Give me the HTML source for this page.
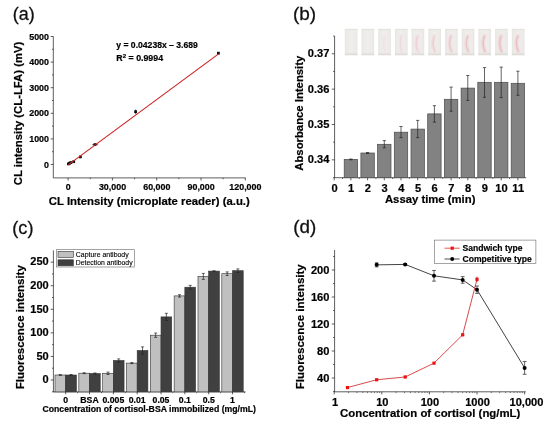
<!DOCTYPE html><html><head><meta charset="utf-8"><title>Figure</title><style>html,body{margin:0;padding:0;background:#fff}svg{display:block;filter:blur(0.22px)}text{font-family:"Liberation Sans",sans-serif}.b{font-weight:bold;stroke:#000;stroke-width:0.2px}.lab{font-family:"DejaVu Sans","Liberation Sans",sans-serif;font-weight:normal}</style></head><body>
<svg width="550" height="427" viewBox="0 0 550 427">
<rect width="550" height="427" fill="#fff"/>
<text x="12.79" y="20.30" font-size="19" text-anchor="start" class="" fill="#111" textLength="21.9" lengthAdjust="spacingAndGlyphs" stroke="#111" stroke-width="0.3">(a)</text>
<line x1="53.30" y1="36.40" x2="53.30" y2="177.90" stroke="#2a2a2a" stroke-width="0.75" />
<line x1="53.30" y1="177.90" x2="245.60" y2="177.90" stroke="#2a2a2a" stroke-width="0.75" />
<line x1="50.70" y1="164.50" x2="53.30" y2="164.50" stroke="#2a2a2a" stroke-width="0.75" />
<text x="49.00" y="167.65" font-size="8.9" text-anchor="end" class="b" fill="#000" >0</text>
<line x1="52.00" y1="151.70" x2="53.30" y2="151.70" stroke="#2a2a2a" stroke-width="0.75" />
<line x1="50.70" y1="138.90" x2="53.30" y2="138.90" stroke="#2a2a2a" stroke-width="0.75" />
<text x="49.00" y="142.05" font-size="8.9" text-anchor="end" class="b" fill="#000" >1000</text>
<line x1="52.00" y1="126.10" x2="53.30" y2="126.10" stroke="#2a2a2a" stroke-width="0.75" />
<line x1="50.70" y1="113.30" x2="53.30" y2="113.30" stroke="#2a2a2a" stroke-width="0.75" />
<text x="49.00" y="116.45" font-size="8.9" text-anchor="end" class="b" fill="#000" >2000</text>
<line x1="52.00" y1="100.50" x2="53.30" y2="100.50" stroke="#2a2a2a" stroke-width="0.75" />
<line x1="50.70" y1="87.70" x2="53.30" y2="87.70" stroke="#2a2a2a" stroke-width="0.75" />
<text x="49.00" y="90.85" font-size="8.9" text-anchor="end" class="b" fill="#000" >3000</text>
<line x1="52.00" y1="74.90" x2="53.30" y2="74.90" stroke="#2a2a2a" stroke-width="0.75" />
<line x1="50.70" y1="62.10" x2="53.30" y2="62.10" stroke="#2a2a2a" stroke-width="0.75" />
<text x="49.00" y="65.25" font-size="8.9" text-anchor="end" class="b" fill="#000" >4000</text>
<line x1="52.00" y1="49.30" x2="53.30" y2="49.30" stroke="#2a2a2a" stroke-width="0.75" />
<line x1="50.70" y1="36.50" x2="53.30" y2="36.50" stroke="#2a2a2a" stroke-width="0.75" />
<text x="49.00" y="39.65" font-size="8.9" text-anchor="end" class="b" fill="#000" >5000</text>
<line x1="68.10" y1="177.90" x2="68.10" y2="180.50" stroke="#2a2a2a" stroke-width="0.75" />
<text x="68.20" y="189.60" font-size="8.9" text-anchor="middle" class="b" fill="#000" >0</text>
<line x1="90.25" y1="177.90" x2="90.25" y2="179.20" stroke="#2a2a2a" stroke-width="0.75" />
<line x1="112.40" y1="177.90" x2="112.40" y2="180.50" stroke="#2a2a2a" stroke-width="0.75" />
<text x="112.50" y="189.60" font-size="8.9" text-anchor="middle" class="b" fill="#000" >30,000</text>
<line x1="134.55" y1="177.90" x2="134.55" y2="179.20" stroke="#2a2a2a" stroke-width="0.75" />
<line x1="156.70" y1="177.90" x2="156.70" y2="180.50" stroke="#2a2a2a" stroke-width="0.75" />
<text x="156.80" y="189.60" font-size="8.9" text-anchor="middle" class="b" fill="#000" >60,000</text>
<line x1="178.85" y1="177.90" x2="178.85" y2="179.20" stroke="#2a2a2a" stroke-width="0.75" />
<line x1="201.00" y1="177.90" x2="201.00" y2="180.50" stroke="#2a2a2a" stroke-width="0.75" />
<text x="201.10" y="189.60" font-size="8.9" text-anchor="middle" class="b" fill="#000" >90,000</text>
<line x1="223.15" y1="177.90" x2="223.15" y2="179.20" stroke="#2a2a2a" stroke-width="0.75" />
<line x1="245.30" y1="177.90" x2="245.30" y2="180.50" stroke="#2a2a2a" stroke-width="0.75" />
<text x="245.40" y="189.60" font-size="8.9" text-anchor="middle" class="b" fill="#000" >120,000</text>
<text x="149.30" y="204.80" font-size="11.3" text-anchor="middle" class="b" fill="#000" textLength="201.0" lengthAdjust="spacingAndGlyphs" >CL Intensity (microplate reader) (a.u.)</text>
<text x="22.20" y="113.50" font-size="11.3" text-anchor="middle" class="b" fill="#000" textLength="143.5" lengthAdjust="spacingAndGlyphs" transform="rotate(-90 22.20 113.50)" >CL intensity (CL-LFA) (mV)</text>
<rect x="67.00" y="162.50" width="2.8" height="2.8" fill="#111"/>
<rect x="68.20" y="161.80" width="2.8" height="2.8" fill="#111"/>
<rect x="69.40" y="161.20" width="2.8" height="2.8" fill="#111"/>
<rect x="72.30" y="160.30" width="2.8" height="2.8" fill="#111"/>
<rect x="79.00" y="155.50" width="2.8" height="2.8" fill="#111"/>
<rect x="93.60" y="143.20" width="2.8" height="2.8" fill="#111"/>
<rect x="134.20" y="110.30" width="2.8" height="2.8" fill="#111"/>
<rect x="217.00" y="51.80" width="2.8" height="2.8" fill="#111"/>
<line x1="92.40" y1="144.60" x2="97.80" y2="144.60" stroke="#111" stroke-width="0.8" />
<line x1="135.60" y1="109.60" x2="135.60" y2="113.80" stroke="#111" stroke-width="0.8" />
<line x1="68.20" y1="164.90" x2="218.60" y2="53.90" stroke="#cc2222" stroke-width="1.15" />
<text x="116.30" y="47.90" font-size="8.9" text-anchor="start" class="b" fill="#000" textLength="81.5" lengthAdjust="spacingAndGlyphs" >y = 0.04238x – 3.689</text>
<text x="116.3" y="61.4" font-size="8.8" class="b" text-anchor="start">R<tspan dy="-3.6" font-size="6.2">2</tspan><tspan dy="3.6"> = 0.9994</tspan></text>
<text x="292.94" y="20.00" font-size="19" text-anchor="start" class="" fill="#111" textLength="23.2" lengthAdjust="spacingAndGlyphs" stroke="#111" stroke-width="0.3">(b)</text>
<line x1="334.60" y1="36.10" x2="334.60" y2="177.70" stroke="#2a2a2a" stroke-width="0.75" />
<line x1="334.20" y1="177.70" x2="526.20" y2="177.70" stroke="#2a2a2a" stroke-width="0.75" />
<line x1="333.10" y1="177.53" x2="334.60" y2="177.53" stroke="#2a2a2a" stroke-width="0.75" />
<line x1="331.80" y1="159.85" x2="334.60" y2="159.85" stroke="#2a2a2a" stroke-width="0.75" />
<text x="329.40" y="163.25" font-size="11.1" text-anchor="end" class="b" fill="#000" >0.34</text>
<line x1="333.10" y1="142.17" x2="334.60" y2="142.17" stroke="#2a2a2a" stroke-width="0.75" />
<line x1="331.80" y1="124.49" x2="334.60" y2="124.49" stroke="#2a2a2a" stroke-width="0.75" />
<text x="329.40" y="127.89" font-size="11.1" text-anchor="end" class="b" fill="#000" >0.35</text>
<line x1="333.10" y1="106.81" x2="334.60" y2="106.81" stroke="#2a2a2a" stroke-width="0.75" />
<line x1="331.80" y1="89.13" x2="334.60" y2="89.13" stroke="#2a2a2a" stroke-width="0.75" />
<text x="329.40" y="92.53" font-size="11.1" text-anchor="end" class="b" fill="#000" >0.36</text>
<line x1="333.10" y1="71.45" x2="334.60" y2="71.45" stroke="#2a2a2a" stroke-width="0.75" />
<line x1="331.80" y1="53.77" x2="334.60" y2="53.77" stroke="#2a2a2a" stroke-width="0.75" />
<text x="329.40" y="57.17" font-size="11.1" text-anchor="end" class="b" fill="#000" >0.37</text>
<line x1="333.10" y1="36.09" x2="334.60" y2="36.09" stroke="#2a2a2a" stroke-width="0.75" />
<line x1="334.20" y1="177.70" x2="334.20" y2="180.30" stroke="#2a2a2a" stroke-width="0.75" />
<text x="334.50" y="191.50" font-size="11.1" text-anchor="middle" class="b" fill="#000" >0</text>
<line x1="342.55" y1="177.70" x2="342.55" y2="179.00" stroke="#2a2a2a" stroke-width="0.75" />
<line x1="350.90" y1="177.70" x2="350.90" y2="180.30" stroke="#2a2a2a" stroke-width="0.75" />
<text x="351.20" y="191.50" font-size="11.1" text-anchor="middle" class="b" fill="#000" >1</text>
<line x1="359.25" y1="177.70" x2="359.25" y2="179.00" stroke="#2a2a2a" stroke-width="0.75" />
<line x1="367.60" y1="177.70" x2="367.60" y2="180.30" stroke="#2a2a2a" stroke-width="0.75" />
<text x="367.90" y="191.50" font-size="11.1" text-anchor="middle" class="b" fill="#000" >2</text>
<line x1="375.95" y1="177.70" x2="375.95" y2="179.00" stroke="#2a2a2a" stroke-width="0.75" />
<line x1="384.30" y1="177.70" x2="384.30" y2="180.30" stroke="#2a2a2a" stroke-width="0.75" />
<text x="384.60" y="191.50" font-size="11.1" text-anchor="middle" class="b" fill="#000" >3</text>
<line x1="392.65" y1="177.70" x2="392.65" y2="179.00" stroke="#2a2a2a" stroke-width="0.75" />
<line x1="401.00" y1="177.70" x2="401.00" y2="180.30" stroke="#2a2a2a" stroke-width="0.75" />
<text x="401.30" y="191.50" font-size="11.1" text-anchor="middle" class="b" fill="#000" >4</text>
<line x1="409.35" y1="177.70" x2="409.35" y2="179.00" stroke="#2a2a2a" stroke-width="0.75" />
<line x1="417.70" y1="177.70" x2="417.70" y2="180.30" stroke="#2a2a2a" stroke-width="0.75" />
<text x="418.00" y="191.50" font-size="11.1" text-anchor="middle" class="b" fill="#000" >5</text>
<line x1="426.05" y1="177.70" x2="426.05" y2="179.00" stroke="#2a2a2a" stroke-width="0.75" />
<line x1="434.40" y1="177.70" x2="434.40" y2="180.30" stroke="#2a2a2a" stroke-width="0.75" />
<text x="434.70" y="191.50" font-size="11.1" text-anchor="middle" class="b" fill="#000" >6</text>
<line x1="442.75" y1="177.70" x2="442.75" y2="179.00" stroke="#2a2a2a" stroke-width="0.75" />
<line x1="451.10" y1="177.70" x2="451.10" y2="180.30" stroke="#2a2a2a" stroke-width="0.75" />
<text x="451.40" y="191.50" font-size="11.1" text-anchor="middle" class="b" fill="#000" >7</text>
<line x1="459.45" y1="177.70" x2="459.45" y2="179.00" stroke="#2a2a2a" stroke-width="0.75" />
<line x1="467.80" y1="177.70" x2="467.80" y2="180.30" stroke="#2a2a2a" stroke-width="0.75" />
<text x="468.10" y="191.50" font-size="11.1" text-anchor="middle" class="b" fill="#000" >8</text>
<line x1="476.15" y1="177.70" x2="476.15" y2="179.00" stroke="#2a2a2a" stroke-width="0.75" />
<line x1="484.50" y1="177.70" x2="484.50" y2="180.30" stroke="#2a2a2a" stroke-width="0.75" />
<text x="484.80" y="191.50" font-size="11.1" text-anchor="middle" class="b" fill="#000" >9</text>
<line x1="492.85" y1="177.70" x2="492.85" y2="179.00" stroke="#2a2a2a" stroke-width="0.75" />
<line x1="501.20" y1="177.70" x2="501.20" y2="180.30" stroke="#2a2a2a" stroke-width="0.75" />
<text x="501.50" y="191.50" font-size="11.1" text-anchor="middle" class="b" fill="#000" >10</text>
<line x1="509.55" y1="177.70" x2="509.55" y2="179.00" stroke="#2a2a2a" stroke-width="0.75" />
<line x1="517.90" y1="177.70" x2="517.90" y2="180.30" stroke="#2a2a2a" stroke-width="0.75" />
<text x="518.20" y="191.50" font-size="11.1" text-anchor="middle" class="b" fill="#000" >11</text>
<text x="430.20" y="203.20" font-size="11.2" text-anchor="middle" class="b" fill="#000" textLength="90.5" lengthAdjust="spacingAndGlyphs" >Assay time (min)</text>
<text x="302.60" y="113.20" font-size="11.2" text-anchor="middle" class="b" fill="#000" textLength="115.0" lengthAdjust="spacingAndGlyphs" transform="rotate(-90 302.60 113.20)" >Absorbance Intensity</text>
<rect x="344.20" y="159.40" width="13.4" height="18.30" fill="#828282" stroke="#4a4a4a" stroke-width="0.7"/>
<line x1="350.90" y1="159.00" x2="350.90" y2="159.80" stroke="#222" stroke-width="0.7" />
<line x1="349.30" y1="159.00" x2="352.50" y2="159.00" stroke="#222" stroke-width="0.7" />
<line x1="349.30" y1="159.80" x2="352.50" y2="159.80" stroke="#222" stroke-width="0.7" />
<rect x="360.90" y="153.00" width="13.4" height="24.70" fill="#828282" stroke="#4a4a4a" stroke-width="0.7"/>
<line x1="367.60" y1="152.50" x2="367.60" y2="153.50" stroke="#222" stroke-width="0.7" />
<line x1="366.00" y1="152.50" x2="369.20" y2="152.50" stroke="#222" stroke-width="0.7" />
<line x1="366.00" y1="153.50" x2="369.20" y2="153.50" stroke="#222" stroke-width="0.7" />
<rect x="377.60" y="144.30" width="13.4" height="33.40" fill="#828282" stroke="#4a4a4a" stroke-width="0.7"/>
<line x1="384.30" y1="140.60" x2="384.30" y2="147.80" stroke="#222" stroke-width="0.7" />
<line x1="382.70" y1="140.60" x2="385.90" y2="140.60" stroke="#222" stroke-width="0.7" />
<line x1="382.70" y1="147.80" x2="385.90" y2="147.80" stroke="#222" stroke-width="0.7" />
<rect x="394.30" y="132.20" width="13.4" height="45.50" fill="#828282" stroke="#4a4a4a" stroke-width="0.7"/>
<line x1="401.00" y1="126.50" x2="401.00" y2="137.60" stroke="#222" stroke-width="0.7" />
<line x1="399.40" y1="126.50" x2="402.60" y2="126.50" stroke="#222" stroke-width="0.7" />
<line x1="399.40" y1="137.60" x2="402.60" y2="137.60" stroke="#222" stroke-width="0.7" />
<rect x="411.00" y="129.10" width="13.4" height="48.60" fill="#828282" stroke="#4a4a4a" stroke-width="0.7"/>
<line x1="417.70" y1="120.40" x2="417.70" y2="137.60" stroke="#222" stroke-width="0.7" />
<line x1="416.10" y1="120.40" x2="419.30" y2="120.40" stroke="#222" stroke-width="0.7" />
<line x1="416.10" y1="137.60" x2="419.30" y2="137.60" stroke="#222" stroke-width="0.7" />
<rect x="427.70" y="113.90" width="13.4" height="63.80" fill="#828282" stroke="#4a4a4a" stroke-width="0.7"/>
<line x1="434.40" y1="105.70" x2="434.40" y2="122.10" stroke="#222" stroke-width="0.7" />
<line x1="432.80" y1="105.70" x2="436.00" y2="105.70" stroke="#222" stroke-width="0.7" />
<line x1="432.80" y1="122.10" x2="436.00" y2="122.10" stroke="#222" stroke-width="0.7" />
<rect x="444.40" y="99.30" width="13.4" height="78.40" fill="#828282" stroke="#4a4a4a" stroke-width="0.7"/>
<line x1="451.10" y1="87.10" x2="451.10" y2="111.20" stroke="#222" stroke-width="0.7" />
<line x1="449.50" y1="87.10" x2="452.70" y2="87.10" stroke="#222" stroke-width="0.7" />
<line x1="449.50" y1="111.20" x2="452.70" y2="111.20" stroke="#222" stroke-width="0.7" />
<rect x="461.10" y="88.10" width="13.4" height="89.60" fill="#828282" stroke="#4a4a4a" stroke-width="0.7"/>
<line x1="467.80" y1="75.50" x2="467.80" y2="100.40" stroke="#222" stroke-width="0.7" />
<line x1="466.20" y1="75.50" x2="469.40" y2="75.50" stroke="#222" stroke-width="0.7" />
<line x1="466.20" y1="100.40" x2="469.40" y2="100.40" stroke="#222" stroke-width="0.7" />
<rect x="477.80" y="82.30" width="13.4" height="95.40" fill="#828282" stroke="#4a4a4a" stroke-width="0.7"/>
<line x1="484.50" y1="67.60" x2="484.50" y2="97.30" stroke="#222" stroke-width="0.7" />
<line x1="482.90" y1="67.60" x2="486.10" y2="67.60" stroke="#222" stroke-width="0.7" />
<line x1="482.90" y1="97.30" x2="486.10" y2="97.30" stroke="#222" stroke-width="0.7" />
<rect x="494.50" y="82.30" width="13.4" height="95.40" fill="#828282" stroke="#4a4a4a" stroke-width="0.7"/>
<line x1="501.20" y1="67.10" x2="501.20" y2="97.60" stroke="#222" stroke-width="0.7" />
<line x1="499.60" y1="67.10" x2="502.80" y2="67.10" stroke="#222" stroke-width="0.7" />
<line x1="499.60" y1="97.60" x2="502.80" y2="97.60" stroke="#222" stroke-width="0.7" />
<rect x="511.20" y="83.30" width="13.4" height="94.40" fill="#828282" stroke="#4a4a4a" stroke-width="0.7"/>
<line x1="517.90" y1="71.20" x2="517.90" y2="95.30" stroke="#222" stroke-width="0.7" />
<line x1="516.30" y1="71.20" x2="519.50" y2="71.20" stroke="#222" stroke-width="0.7" />
<line x1="516.30" y1="95.30" x2="519.50" y2="95.30" stroke="#222" stroke-width="0.7" />
<defs><linearGradient id="sg" x1="0" y1="0" x2="0" y2="1"><stop offset="0" stop-color="#e0ddd5"/><stop offset="0.06" stop-color="#ebe9e5" stop-opacity="0.5"/><stop offset="0.13" stop-color="#f2f0ee" stop-opacity="0"/><stop offset="0.86" stop-color="#f0eeeb" stop-opacity="0"/><stop offset="0.93" stop-color="#e2e0dc" stop-opacity="0.6"/><stop offset="1" stop-color="#d9d7d2"/></linearGradient><linearGradient id="sh" x1="0" y1="0" x2="1" y2="0"><stop offset="0" stop-color="#e6e4e0"/><stop offset="0.14" stop-color="#edebe9"/><stop offset="0.5" stop-color="#f0eeec"/><stop offset="0.86" stop-color="#edebe9"/><stop offset="1" stop-color="#e6e4e0"/></linearGradient><filter id="bl" x="-100%" y="-20%" width="300%" height="140%"><feGaussianBlur stdDeviation="0.8"/></filter></defs>
<rect x="344.85" y="28.9" width="12.6" height="26.3" fill="url(#sh)"/>
<rect x="344.85" y="28.9" width="12.6" height="26.3" fill="url(#sg)"/>
<rect x="361.55" y="28.9" width="12.6" height="26.3" fill="url(#sh)"/>
<rect x="361.55" y="28.9" width="12.6" height="26.3" fill="url(#sg)"/>
<rect x="378.25" y="28.9" width="12.6" height="26.3" fill="url(#sh)"/>
<rect x="378.25" y="28.9" width="12.6" height="26.3" fill="url(#sg)"/>
<path d="M 384.35 35.6 Q 382.75 43.5 384.85 51.8" fill="none" stroke="#e8859a" stroke-width="1.8" stroke-linecap="round" opacity="0.09" filter="url(#bl)"/>
<path d="M 384.35 35.6 Q 382.75 43.5 384.85 51.8" fill="none" stroke="#e27890" stroke-width="0.9" stroke-linecap="round" opacity="0.06"/>
<rect x="394.95" y="28.9" width="12.6" height="26.3" fill="url(#sh)"/>
<rect x="394.95" y="28.9" width="12.6" height="26.3" fill="url(#sg)"/>
<path d="M 401.05 35.6 Q 399.45 43.5 401.55 51.8" fill="none" stroke="#e8859a" stroke-width="1.8" stroke-linecap="round" opacity="0.17" filter="url(#bl)"/>
<path d="M 401.05 35.6 Q 399.45 43.5 401.55 51.8" fill="none" stroke="#e27890" stroke-width="0.9" stroke-linecap="round" opacity="0.11"/>
<rect x="411.65" y="28.9" width="12.6" height="26.3" fill="url(#sh)"/>
<rect x="411.65" y="28.9" width="12.6" height="26.3" fill="url(#sg)"/>
<path d="M 417.75 35.6 Q 414.35 43.5 418.25 51.8" fill="none" stroke="#e8859a" stroke-width="1.8" stroke-linecap="round" opacity="0.26" filter="url(#bl)"/>
<path d="M 417.75 35.6 Q 414.35 43.5 418.25 51.8" fill="none" stroke="#e27890" stroke-width="0.9" stroke-linecap="round" opacity="0.17"/>
<rect x="428.35" y="28.9" width="12.6" height="26.3" fill="url(#sh)"/>
<rect x="428.35" y="28.9" width="12.6" height="26.3" fill="url(#sg)"/>
<path d="M 434.45 35.6 Q 431.05 43.5 434.95 51.8" fill="none" stroke="#e8859a" stroke-width="1.8" stroke-linecap="round" opacity="0.31" filter="url(#bl)"/>
<path d="M 434.45 35.6 Q 431.05 43.5 434.95 51.8" fill="none" stroke="#e27890" stroke-width="0.9" stroke-linecap="round" opacity="0.20"/>
<rect x="445.05" y="28.9" width="12.6" height="26.3" fill="url(#sh)"/>
<rect x="445.05" y="28.9" width="12.6" height="26.3" fill="url(#sg)"/>
<path d="M 451.15 35.6 Q 447.75 43.5 451.65 51.8" fill="none" stroke="#e8859a" stroke-width="1.8" stroke-linecap="round" opacity="0.37" filter="url(#bl)"/>
<path d="M 451.15 35.6 Q 447.75 43.5 451.65 51.8" fill="none" stroke="#e27890" stroke-width="0.9" stroke-linecap="round" opacity="0.24"/>
<rect x="461.75" y="28.9" width="12.6" height="26.3" fill="url(#sh)"/>
<rect x="461.75" y="28.9" width="12.6" height="26.3" fill="url(#sg)"/>
<path d="M 467.85 35.6 Q 464.45 43.5 468.35 51.8" fill="none" stroke="#e8859a" stroke-width="1.8" stroke-linecap="round" opacity="0.42" filter="url(#bl)"/>
<path d="M 467.85 35.6 Q 464.45 43.5 468.35 51.8" fill="none" stroke="#e27890" stroke-width="0.9" stroke-linecap="round" opacity="0.28"/>
<rect x="478.45" y="28.9" width="12.6" height="26.3" fill="url(#sh)"/>
<rect x="478.45" y="28.9" width="12.6" height="26.3" fill="url(#sg)"/>
<path d="M 484.55 35.6 Q 481.15 43.5 485.05 51.8" fill="none" stroke="#e8859a" stroke-width="1.8" stroke-linecap="round" opacity="0.48" filter="url(#bl)"/>
<path d="M 484.55 35.6 Q 481.15 43.5 485.05 51.8" fill="none" stroke="#e27890" stroke-width="0.9" stroke-linecap="round" opacity="0.31"/>
<rect x="495.15" y="28.9" width="12.6" height="26.3" fill="url(#sh)"/>
<rect x="495.15" y="28.9" width="12.6" height="26.3" fill="url(#sg)"/>
<path d="M 501.25 35.6 Q 497.85 43.5 501.75 51.8" fill="none" stroke="#e8859a" stroke-width="1.8" stroke-linecap="round" opacity="0.48" filter="url(#bl)"/>
<path d="M 501.25 35.6 Q 497.85 43.5 501.75 51.8" fill="none" stroke="#e27890" stroke-width="0.9" stroke-linecap="round" opacity="0.31"/>
<rect x="511.85" y="28.9" width="12.6" height="26.3" fill="url(#sh)"/>
<rect x="511.85" y="28.9" width="12.6" height="26.3" fill="url(#sg)"/>
<path d="M 517.95 35.6 Q 514.55 43.5 518.45 51.8" fill="none" stroke="#e8859a" stroke-width="1.8" stroke-linecap="round" opacity="0.48" filter="url(#bl)"/>
<path d="M 517.95 35.6 Q 514.55 43.5 518.45 51.8" fill="none" stroke="#e27890" stroke-width="0.9" stroke-linecap="round" opacity="0.31"/>
<text x="12.32" y="233.80" font-size="19" text-anchor="start" class="" fill="#111" textLength="21.1" lengthAdjust="spacingAndGlyphs" stroke="#111" stroke-width="0.3">(c)</text>
<line x1="53.40" y1="250.40" x2="53.40" y2="391.90" stroke="#2a2a2a" stroke-width="0.75" />
<line x1="52.90" y1="391.90" x2="245.60" y2="391.90" stroke="#2a2a2a" stroke-width="0.75" />
<line x1="52.00" y1="391.79" x2="53.40" y2="391.79" stroke="#2a2a2a" stroke-width="0.75" />
<line x1="50.70" y1="380.00" x2="53.40" y2="380.00" stroke="#2a2a2a" stroke-width="0.75" />
<text x="48.70" y="383.30" font-size="11.0" text-anchor="end" class="b" fill="#000" >0</text>
<line x1="52.00" y1="368.21" x2="53.40" y2="368.21" stroke="#2a2a2a" stroke-width="0.75" />
<line x1="50.70" y1="356.43" x2="53.40" y2="356.43" stroke="#2a2a2a" stroke-width="0.75" />
<text x="48.70" y="359.73" font-size="11.0" text-anchor="end" class="b" fill="#000" >50</text>
<line x1="52.00" y1="344.64" x2="53.40" y2="344.64" stroke="#2a2a2a" stroke-width="0.75" />
<line x1="50.70" y1="332.86" x2="53.40" y2="332.86" stroke="#2a2a2a" stroke-width="0.75" />
<text x="48.70" y="336.16" font-size="11.0" text-anchor="end" class="b" fill="#000" >100</text>
<line x1="52.00" y1="321.07" x2="53.40" y2="321.07" stroke="#2a2a2a" stroke-width="0.75" />
<line x1="50.70" y1="309.29" x2="53.40" y2="309.29" stroke="#2a2a2a" stroke-width="0.75" />
<text x="48.70" y="312.59" font-size="11.0" text-anchor="end" class="b" fill="#000" >150</text>
<line x1="52.00" y1="297.50" x2="53.40" y2="297.50" stroke="#2a2a2a" stroke-width="0.75" />
<line x1="50.70" y1="285.72" x2="53.40" y2="285.72" stroke="#2a2a2a" stroke-width="0.75" />
<text x="48.70" y="289.02" font-size="11.0" text-anchor="end" class="b" fill="#000" >200</text>
<line x1="52.00" y1="273.94" x2="53.40" y2="273.94" stroke="#2a2a2a" stroke-width="0.75" />
<line x1="50.70" y1="262.15" x2="53.40" y2="262.15" stroke="#2a2a2a" stroke-width="0.75" />
<text x="48.70" y="265.45" font-size="11.0" text-anchor="end" class="b" fill="#000" >250</text>
<line x1="65.70" y1="391.90" x2="65.70" y2="394.30" stroke="#2a2a2a" stroke-width="0.75" />
<line x1="77.62" y1="391.90" x2="77.62" y2="393.20" stroke="#2a2a2a" stroke-width="0.75" />
<text x="65.70" y="402.80" font-size="8.7" text-anchor="middle" class="b" fill="#000" >0</text>
<rect x="55.00" y="375.00" width="10.7" height="16.90" fill="#c0c0c0" stroke="#333" stroke-width="0.6"/>
<line x1="60.35" y1="374.60" x2="60.35" y2="375.40" stroke="#222" stroke-width="0.7" />
<line x1="58.85" y1="374.60" x2="61.85" y2="374.60" stroke="#222" stroke-width="0.7" />
<line x1="58.85" y1="375.40" x2="61.85" y2="375.40" stroke="#222" stroke-width="0.7" />
<rect x="65.70" y="375.00" width="10.7" height="16.90" fill="#404040" stroke="#333" stroke-width="0.6"/>
<line x1="71.05" y1="374.50" x2="71.05" y2="375.50" stroke="#222" stroke-width="0.7" />
<line x1="69.55" y1="374.50" x2="72.55" y2="374.50" stroke="#222" stroke-width="0.7" />
<line x1="69.55" y1="375.50" x2="72.55" y2="375.50" stroke="#222" stroke-width="0.7" />
<line x1="89.53" y1="391.90" x2="89.53" y2="394.30" stroke="#2a2a2a" stroke-width="0.75" />
<line x1="101.44" y1="391.90" x2="101.44" y2="393.20" stroke="#2a2a2a" stroke-width="0.75" />
<text x="89.53" y="402.80" font-size="8.7" text-anchor="middle" class="b" fill="#000" >BSA</text>
<rect x="78.83" y="373.20" width="10.7" height="18.70" fill="#c0c0c0" stroke="#333" stroke-width="0.6"/>
<line x1="84.18" y1="372.80" x2="84.18" y2="373.60" stroke="#222" stroke-width="0.7" />
<line x1="82.68" y1="372.80" x2="85.68" y2="372.80" stroke="#222" stroke-width="0.7" />
<line x1="82.68" y1="373.60" x2="85.68" y2="373.60" stroke="#222" stroke-width="0.7" />
<rect x="89.53" y="373.50" width="10.7" height="18.40" fill="#404040" stroke="#333" stroke-width="0.6"/>
<line x1="94.88" y1="373.00" x2="94.88" y2="374.00" stroke="#222" stroke-width="0.7" />
<line x1="93.38" y1="373.00" x2="96.38" y2="373.00" stroke="#222" stroke-width="0.7" />
<line x1="93.38" y1="374.00" x2="96.38" y2="374.00" stroke="#222" stroke-width="0.7" />
<line x1="113.36" y1="391.90" x2="113.36" y2="394.30" stroke="#2a2a2a" stroke-width="0.75" />
<line x1="125.28" y1="391.90" x2="125.28" y2="393.20" stroke="#2a2a2a" stroke-width="0.75" />
<text x="113.36" y="402.80" font-size="8.7" text-anchor="middle" class="b" fill="#000" >0.005</text>
<rect x="102.66" y="373.30" width="10.7" height="18.60" fill="#c0c0c0" stroke="#333" stroke-width="0.6"/>
<line x1="108.01" y1="372.10" x2="108.01" y2="374.50" stroke="#222" stroke-width="0.7" />
<line x1="106.51" y1="372.10" x2="109.51" y2="372.10" stroke="#222" stroke-width="0.7" />
<line x1="106.51" y1="374.50" x2="109.51" y2="374.50" stroke="#222" stroke-width="0.7" />
<rect x="113.36" y="360.50" width="10.7" height="31.40" fill="#404040" stroke="#333" stroke-width="0.6"/>
<line x1="118.71" y1="358.90" x2="118.71" y2="362.10" stroke="#222" stroke-width="0.7" />
<line x1="117.21" y1="358.90" x2="120.21" y2="358.90" stroke="#222" stroke-width="0.7" />
<line x1="117.21" y1="362.10" x2="120.21" y2="362.10" stroke="#222" stroke-width="0.7" />
<line x1="137.19" y1="391.90" x2="137.19" y2="394.30" stroke="#2a2a2a" stroke-width="0.75" />
<line x1="149.10" y1="391.90" x2="149.10" y2="393.20" stroke="#2a2a2a" stroke-width="0.75" />
<text x="137.19" y="402.80" font-size="8.7" text-anchor="middle" class="b" fill="#000" >0.01</text>
<rect x="126.49" y="363.10" width="10.7" height="28.80" fill="#c0c0c0" stroke="#333" stroke-width="0.6"/>
<line x1="131.84" y1="362.60" x2="131.84" y2="363.60" stroke="#222" stroke-width="0.7" />
<line x1="130.34" y1="362.60" x2="133.34" y2="362.60" stroke="#222" stroke-width="0.7" />
<line x1="130.34" y1="363.60" x2="133.34" y2="363.60" stroke="#222" stroke-width="0.7" />
<rect x="137.19" y="350.50" width="10.7" height="41.40" fill="#404040" stroke="#333" stroke-width="0.6"/>
<line x1="142.54" y1="346.90" x2="142.54" y2="354.10" stroke="#222" stroke-width="0.7" />
<line x1="141.04" y1="346.90" x2="144.04" y2="346.90" stroke="#222" stroke-width="0.7" />
<line x1="141.04" y1="354.10" x2="144.04" y2="354.10" stroke="#222" stroke-width="0.7" />
<line x1="161.02" y1="391.90" x2="161.02" y2="394.30" stroke="#2a2a2a" stroke-width="0.75" />
<line x1="172.93" y1="391.90" x2="172.93" y2="393.20" stroke="#2a2a2a" stroke-width="0.75" />
<text x="161.02" y="402.80" font-size="8.7" text-anchor="middle" class="b" fill="#000" >0.05</text>
<rect x="150.32" y="335.20" width="10.7" height="56.70" fill="#c0c0c0" stroke="#333" stroke-width="0.6"/>
<line x1="155.67" y1="333.00" x2="155.67" y2="337.40" stroke="#222" stroke-width="0.7" />
<line x1="154.17" y1="333.00" x2="157.17" y2="333.00" stroke="#222" stroke-width="0.7" />
<line x1="154.17" y1="337.40" x2="157.17" y2="337.40" stroke="#222" stroke-width="0.7" />
<rect x="161.02" y="316.90" width="10.7" height="75.00" fill="#404040" stroke="#333" stroke-width="0.6"/>
<line x1="166.37" y1="313.30" x2="166.37" y2="320.50" stroke="#222" stroke-width="0.7" />
<line x1="164.87" y1="313.30" x2="167.87" y2="313.30" stroke="#222" stroke-width="0.7" />
<line x1="164.87" y1="320.50" x2="167.87" y2="320.50" stroke="#222" stroke-width="0.7" />
<line x1="184.85" y1="391.90" x2="184.85" y2="394.30" stroke="#2a2a2a" stroke-width="0.75" />
<line x1="196.76" y1="391.90" x2="196.76" y2="393.20" stroke="#2a2a2a" stroke-width="0.75" />
<text x="184.85" y="402.80" font-size="8.7" text-anchor="middle" class="b" fill="#000" >0.1</text>
<rect x="174.15" y="295.90" width="10.7" height="96.00" fill="#c0c0c0" stroke="#333" stroke-width="0.6"/>
<line x1="179.50" y1="294.70" x2="179.50" y2="297.10" stroke="#222" stroke-width="0.7" />
<line x1="178.00" y1="294.70" x2="181.00" y2="294.70" stroke="#222" stroke-width="0.7" />
<line x1="178.00" y1="297.10" x2="181.00" y2="297.10" stroke="#222" stroke-width="0.7" />
<rect x="184.85" y="287.20" width="10.7" height="104.70" fill="#404040" stroke="#333" stroke-width="0.6"/>
<line x1="190.20" y1="285.40" x2="190.20" y2="289.00" stroke="#222" stroke-width="0.7" />
<line x1="188.70" y1="285.40" x2="191.70" y2="285.40" stroke="#222" stroke-width="0.7" />
<line x1="188.70" y1="289.00" x2="191.70" y2="289.00" stroke="#222" stroke-width="0.7" />
<line x1="208.68" y1="391.90" x2="208.68" y2="394.30" stroke="#2a2a2a" stroke-width="0.75" />
<line x1="220.59" y1="391.90" x2="220.59" y2="393.20" stroke="#2a2a2a" stroke-width="0.75" />
<text x="208.68" y="402.80" font-size="8.7" text-anchor="middle" class="b" fill="#000" >0.5</text>
<rect x="197.98" y="276.40" width="10.7" height="115.50" fill="#c0c0c0" stroke="#333" stroke-width="0.6"/>
<line x1="203.33" y1="273.40" x2="203.33" y2="279.40" stroke="#222" stroke-width="0.7" />
<line x1="201.83" y1="273.40" x2="204.83" y2="273.40" stroke="#222" stroke-width="0.7" />
<line x1="201.83" y1="279.40" x2="204.83" y2="279.40" stroke="#222" stroke-width="0.7" />
<rect x="208.68" y="271.10" width="10.7" height="120.80" fill="#404040" stroke="#333" stroke-width="0.6"/>
<line x1="214.03" y1="270.80" x2="214.03" y2="271.40" stroke="#222" stroke-width="0.7" />
<line x1="212.53" y1="270.80" x2="215.53" y2="270.80" stroke="#222" stroke-width="0.7" />
<line x1="212.53" y1="271.40" x2="215.53" y2="271.40" stroke="#222" stroke-width="0.7" />
<line x1="232.51" y1="391.90" x2="232.51" y2="394.30" stroke="#2a2a2a" stroke-width="0.75" />
<line x1="244.42" y1="391.90" x2="244.42" y2="393.20" stroke="#2a2a2a" stroke-width="0.75" />
<text x="232.51" y="402.80" font-size="8.7" text-anchor="middle" class="b" fill="#000" >1</text>
<rect x="221.81" y="273.70" width="10.7" height="118.20" fill="#c0c0c0" stroke="#333" stroke-width="0.6"/>
<line x1="227.16" y1="271.90" x2="227.16" y2="275.50" stroke="#222" stroke-width="0.7" />
<line x1="225.66" y1="271.90" x2="228.66" y2="271.90" stroke="#222" stroke-width="0.7" />
<line x1="225.66" y1="275.50" x2="228.66" y2="275.50" stroke="#222" stroke-width="0.7" />
<rect x="232.51" y="270.70" width="10.7" height="121.20" fill="#404040" stroke="#333" stroke-width="0.6"/>
<line x1="237.86" y1="268.90" x2="237.86" y2="272.50" stroke="#222" stroke-width="0.7" />
<line x1="236.36" y1="268.90" x2="239.36" y2="268.90" stroke="#222" stroke-width="0.7" />
<line x1="236.36" y1="272.50" x2="239.36" y2="272.50" stroke="#222" stroke-width="0.7" />
<text x="149.20" y="411.90" font-size="8.7" text-anchor="middle" class="b" fill="#000" textLength="213.5" lengthAdjust="spacingAndGlyphs" >Concentration of cortisol-BSA immobilized (mg/mL)</text>
<text x="24.20" y="327.20" font-size="11.3" text-anchor="middle" class="b" fill="#000" textLength="124.0" lengthAdjust="spacingAndGlyphs" transform="rotate(-90 24.20 327.20)" >Fluorescence intensity</text>
<rect x="56.5" y="249.7" width="78" height="17.3" fill="#fff" stroke="#666" stroke-width="0.6"/>
<rect x="58" y="251.4" width="15.3" height="6" fill="#c0c0c0" stroke="#333" stroke-width="0.6"/>
<rect x="58" y="259.8" width="15.3" height="6" fill="#404040" stroke="#333" stroke-width="0.6"/>
<text x="75.80" y="257.00" font-size="7.0" text-anchor="start" class="" fill="#000" textLength="52.9" lengthAdjust="spacingAndGlyphs" stroke="#000" stroke-width="0.12">Capture antibody</text>
<text x="75.80" y="265.40" font-size="7.0" text-anchor="start" class="" fill="#000" textLength="56.8" lengthAdjust="spacingAndGlyphs" stroke="#000" stroke-width="0.12">Detection antibody</text>
<text x="293.35" y="233.40" font-size="19" text-anchor="start" class="" fill="#111" textLength="23.0" lengthAdjust="spacingAndGlyphs" stroke="#111" stroke-width="0.3">(d)</text>
<line x1="334.60" y1="250.00" x2="334.60" y2="391.80" stroke="#2a2a2a" stroke-width="0.75" />
<line x1="334.20" y1="391.80" x2="525.80" y2="391.80" stroke="#2a2a2a" stroke-width="0.75" />
<line x1="333.10" y1="391.50" x2="334.60" y2="391.50" stroke="#2a2a2a" stroke-width="0.75" />
<line x1="331.80" y1="378.00" x2="334.60" y2="378.00" stroke="#2a2a2a" stroke-width="0.75" />
<text x="329.40" y="381.70" font-size="11.1" text-anchor="end" class="b" fill="#000" >40</text>
<line x1="333.10" y1="364.50" x2="334.60" y2="364.50" stroke="#2a2a2a" stroke-width="0.75" />
<line x1="331.80" y1="351.00" x2="334.60" y2="351.00" stroke="#2a2a2a" stroke-width="0.75" />
<text x="329.40" y="354.70" font-size="11.1" text-anchor="end" class="b" fill="#000" >80</text>
<line x1="333.10" y1="337.50" x2="334.60" y2="337.50" stroke="#2a2a2a" stroke-width="0.75" />
<line x1="331.80" y1="324.00" x2="334.60" y2="324.00" stroke="#2a2a2a" stroke-width="0.75" />
<text x="329.40" y="327.70" font-size="11.1" text-anchor="end" class="b" fill="#000" >120</text>
<line x1="333.10" y1="310.50" x2="334.60" y2="310.50" stroke="#2a2a2a" stroke-width="0.75" />
<line x1="331.80" y1="297.00" x2="334.60" y2="297.00" stroke="#2a2a2a" stroke-width="0.75" />
<text x="329.40" y="300.70" font-size="11.1" text-anchor="end" class="b" fill="#000" >160</text>
<line x1="333.10" y1="283.50" x2="334.60" y2="283.50" stroke="#2a2a2a" stroke-width="0.75" />
<line x1="331.80" y1="270.00" x2="334.60" y2="270.00" stroke="#2a2a2a" stroke-width="0.75" />
<text x="329.40" y="273.70" font-size="11.1" text-anchor="end" class="b" fill="#000" >200</text>
<line x1="333.10" y1="256.50" x2="334.60" y2="256.50" stroke="#2a2a2a" stroke-width="0.75" />
<line x1="334.20" y1="391.80" x2="334.20" y2="394.40" stroke="#2a2a2a" stroke-width="0.75" />
<text x="335.00" y="405.70" font-size="11.1" text-anchor="middle" class="b" fill="#000" >1</text>
<line x1="348.53" y1="391.80" x2="348.53" y2="393.10" stroke="#2a2a2a" stroke-width="0.6" />
<line x1="356.91" y1="391.80" x2="356.91" y2="393.10" stroke="#2a2a2a" stroke-width="0.6" />
<line x1="362.86" y1="391.80" x2="362.86" y2="393.10" stroke="#2a2a2a" stroke-width="0.6" />
<line x1="367.47" y1="391.80" x2="367.47" y2="393.10" stroke="#2a2a2a" stroke-width="0.6" />
<line x1="371.24" y1="391.80" x2="371.24" y2="393.10" stroke="#2a2a2a" stroke-width="0.6" />
<line x1="374.43" y1="391.80" x2="374.43" y2="393.10" stroke="#2a2a2a" stroke-width="0.6" />
<line x1="377.19" y1="391.80" x2="377.19" y2="393.10" stroke="#2a2a2a" stroke-width="0.6" />
<line x1="379.62" y1="391.80" x2="379.62" y2="393.10" stroke="#2a2a2a" stroke-width="0.6" />
<line x1="381.80" y1="391.80" x2="381.80" y2="394.40" stroke="#2a2a2a" stroke-width="0.75" />
<text x="382.30" y="405.70" font-size="11.1" text-anchor="middle" class="b" fill="#000" >10</text>
<line x1="396.13" y1="391.80" x2="396.13" y2="393.10" stroke="#2a2a2a" stroke-width="0.6" />
<line x1="404.51" y1="391.80" x2="404.51" y2="393.10" stroke="#2a2a2a" stroke-width="0.6" />
<line x1="410.46" y1="391.80" x2="410.46" y2="393.10" stroke="#2a2a2a" stroke-width="0.6" />
<line x1="415.07" y1="391.80" x2="415.07" y2="393.10" stroke="#2a2a2a" stroke-width="0.6" />
<line x1="418.84" y1="391.80" x2="418.84" y2="393.10" stroke="#2a2a2a" stroke-width="0.6" />
<line x1="422.03" y1="391.80" x2="422.03" y2="393.10" stroke="#2a2a2a" stroke-width="0.6" />
<line x1="424.79" y1="391.80" x2="424.79" y2="393.10" stroke="#2a2a2a" stroke-width="0.6" />
<line x1="427.22" y1="391.80" x2="427.22" y2="393.10" stroke="#2a2a2a" stroke-width="0.6" />
<line x1="429.40" y1="391.80" x2="429.40" y2="394.40" stroke="#2a2a2a" stroke-width="0.75" />
<text x="429.90" y="405.70" font-size="11.1" text-anchor="middle" class="b" fill="#000" >100</text>
<line x1="443.73" y1="391.80" x2="443.73" y2="393.10" stroke="#2a2a2a" stroke-width="0.6" />
<line x1="452.11" y1="391.80" x2="452.11" y2="393.10" stroke="#2a2a2a" stroke-width="0.6" />
<line x1="458.06" y1="391.80" x2="458.06" y2="393.10" stroke="#2a2a2a" stroke-width="0.6" />
<line x1="462.67" y1="391.80" x2="462.67" y2="393.10" stroke="#2a2a2a" stroke-width="0.6" />
<line x1="466.44" y1="391.80" x2="466.44" y2="393.10" stroke="#2a2a2a" stroke-width="0.6" />
<line x1="469.63" y1="391.80" x2="469.63" y2="393.10" stroke="#2a2a2a" stroke-width="0.6" />
<line x1="472.39" y1="391.80" x2="472.39" y2="393.10" stroke="#2a2a2a" stroke-width="0.6" />
<line x1="474.82" y1="391.80" x2="474.82" y2="393.10" stroke="#2a2a2a" stroke-width="0.6" />
<line x1="477.00" y1="391.80" x2="477.00" y2="394.40" stroke="#2a2a2a" stroke-width="0.75" />
<text x="477.50" y="405.70" font-size="11.1" text-anchor="middle" class="b" fill="#000" >1000</text>
<line x1="491.33" y1="391.80" x2="491.33" y2="393.10" stroke="#2a2a2a" stroke-width="0.6" />
<line x1="499.71" y1="391.80" x2="499.71" y2="393.10" stroke="#2a2a2a" stroke-width="0.6" />
<line x1="505.66" y1="391.80" x2="505.66" y2="393.10" stroke="#2a2a2a" stroke-width="0.6" />
<line x1="510.27" y1="391.80" x2="510.27" y2="393.10" stroke="#2a2a2a" stroke-width="0.6" />
<line x1="514.04" y1="391.80" x2="514.04" y2="393.10" stroke="#2a2a2a" stroke-width="0.6" />
<line x1="517.23" y1="391.80" x2="517.23" y2="393.10" stroke="#2a2a2a" stroke-width="0.6" />
<line x1="519.99" y1="391.80" x2="519.99" y2="393.10" stroke="#2a2a2a" stroke-width="0.6" />
<line x1="522.42" y1="391.80" x2="522.42" y2="393.10" stroke="#2a2a2a" stroke-width="0.6" />
<line x1="524.60" y1="391.80" x2="524.60" y2="394.40" stroke="#2a2a2a" stroke-width="0.75" />
<text x="526.50" y="405.70" font-size="11.1" text-anchor="middle" class="b" fill="#000" >10,000</text>
<text x="430.20" y="417.00" font-size="11.5" text-anchor="middle" class="b" fill="#000" textLength="180.3" lengthAdjust="spacingAndGlyphs" >Concentration of cortisol (ng/mL)</text>
<text x="303.90" y="326.70" font-size="11.3" text-anchor="middle" class="b" fill="#000" textLength="125.0" lengthAdjust="spacingAndGlyphs" transform="rotate(-90 303.90 326.70)" >Fluorescence intensity</text>
<polyline fill="none" stroke="#222" stroke-width="0.85" points="376.66,264.87 405.19,264.40 434.01,275.81 462.67,279.92 477.00,289.71 524.60,367.88"/>
<polyline fill="none" stroke="#d02a2a" stroke-width="0.85" points="347.47,387.58 376.66,379.75 405.19,376.99 434.01,363.15 462.67,334.80 477.00,279.31"/>
<line x1="376.66" y1="262.85" x2="376.66" y2="266.89" stroke="#222" stroke-width="0.7" />
<line x1="374.76" y1="262.85" x2="378.56" y2="262.85" stroke="#222" stroke-width="0.7" />
<line x1="374.76" y1="266.89" x2="378.56" y2="266.89" stroke="#222" stroke-width="0.7" />
<circle cx="376.66" cy="264.87" r="2.0" fill="#000"/>
<line x1="405.19" y1="263.59" x2="405.19" y2="265.21" stroke="#222" stroke-width="0.7" />
<line x1="403.29" y1="263.59" x2="407.09" y2="263.59" stroke="#222" stroke-width="0.7" />
<line x1="403.29" y1="265.21" x2="407.09" y2="265.21" stroke="#222" stroke-width="0.7" />
<circle cx="405.19" cy="264.40" r="2.0" fill="#000"/>
<line x1="434.01" y1="270.47" x2="434.01" y2="281.14" stroke="#222" stroke-width="0.7" />
<line x1="432.11" y1="270.47" x2="435.91" y2="270.47" stroke="#222" stroke-width="0.7" />
<line x1="432.11" y1="281.14" x2="435.91" y2="281.14" stroke="#222" stroke-width="0.7" />
<circle cx="434.01" cy="275.81" r="2.0" fill="#000"/>
<line x1="462.67" y1="276.62" x2="462.67" y2="283.23" stroke="#222" stroke-width="0.7" />
<line x1="460.77" y1="276.62" x2="464.57" y2="276.62" stroke="#222" stroke-width="0.7" />
<line x1="460.77" y1="283.23" x2="464.57" y2="283.23" stroke="#222" stroke-width="0.7" />
<circle cx="462.67" cy="279.92" r="2.0" fill="#000"/>
<line x1="477.00" y1="286.06" x2="477.00" y2="293.35" stroke="#222" stroke-width="0.7" />
<line x1="475.10" y1="286.06" x2="478.90" y2="286.06" stroke="#222" stroke-width="0.7" />
<line x1="475.10" y1="293.35" x2="478.90" y2="293.35" stroke="#222" stroke-width="0.7" />
<circle cx="477.00" cy="289.71" r="2.0" fill="#000"/>
<line x1="524.60" y1="361.46" x2="524.60" y2="374.29" stroke="#222" stroke-width="0.7" />
<line x1="522.70" y1="361.46" x2="526.50" y2="361.46" stroke="#222" stroke-width="0.7" />
<line x1="522.70" y1="374.29" x2="526.50" y2="374.29" stroke="#222" stroke-width="0.7" />
<circle cx="524.60" cy="367.88" r="2.0" fill="#000"/>
<rect x="345.87" y="385.98" width="3.2" height="3.2" fill="#ee1111"/>
<rect x="375.06" y="378.15" width="3.2" height="3.2" fill="#ee1111"/>
<line x1="405.19" y1="375.64" x2="405.19" y2="378.34" stroke="#e01010" stroke-width="0.8" />
<rect x="403.59" y="375.39" width="3.2" height="3.2" fill="#ee1111"/>
<rect x="432.41" y="361.55" width="3.2" height="3.2" fill="#ee1111"/>
<line x1="462.67" y1="333.45" x2="462.67" y2="336.15" stroke="#e01010" stroke-width="0.8" />
<rect x="461.07" y="333.20" width="3.2" height="3.2" fill="#ee1111"/>
<line x1="477.00" y1="276.62" x2="477.00" y2="282.01" stroke="#e01010" stroke-width="0.8" />
<rect x="475.40" y="277.71" width="3.2" height="3.2" fill="#ee1111"/>
<rect x="434.6" y="240.1" width="101.3" height="23.4" fill="#fff" stroke="#6a6a6a" stroke-width="0.6"/>
<line x1="444.50" y1="248.20" x2="459.60" y2="248.20" stroke="#e03030" stroke-width="0.8" />
<rect x="450.6" y="246.6" width="3.2" height="3.2" fill="#ee1111"/>
<line x1="444.50" y1="259.00" x2="459.60" y2="259.00" stroke="#222" stroke-width="0.8" />
<circle cx="452.2" cy="259.0" r="2.0" fill="#000"/>
<text x="462.50" y="251.00" font-size="9.4" text-anchor="start" class="b" fill="#000" textLength="60.0" lengthAdjust="spacingAndGlyphs" >Sandwich type</text>
<text x="462.50" y="262.10" font-size="9.4" text-anchor="start" class="b" fill="#000" textLength="69.2" lengthAdjust="spacingAndGlyphs" >Competitive type</text>
</svg></body></html>
